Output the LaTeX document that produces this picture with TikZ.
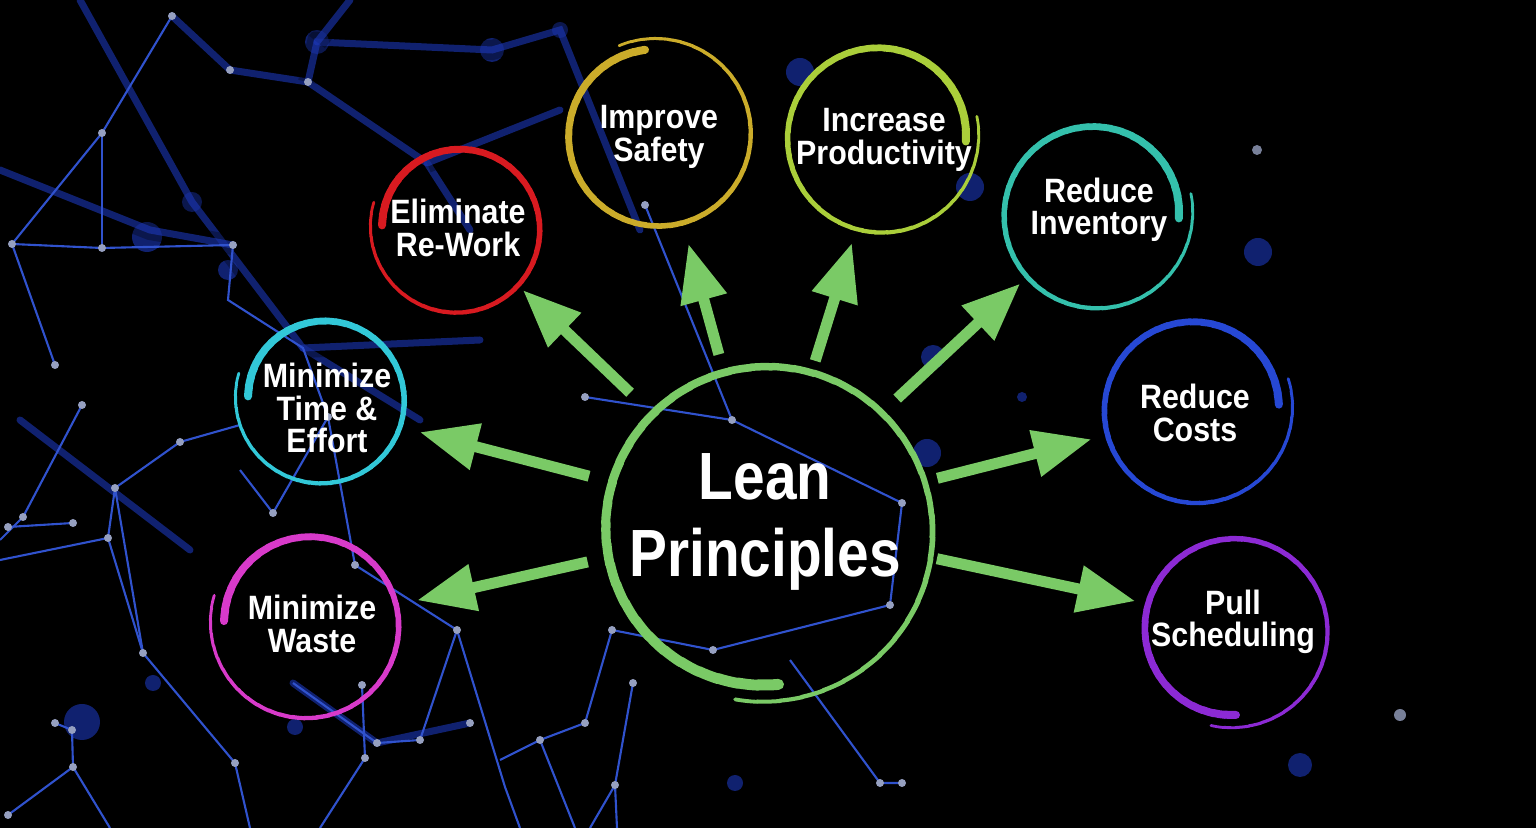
\documentclass[tikz,border=0pt]{standalone}
\usepackage{fontspec}
\setmainfont{Liberation Sans}
\newfontfamily\tagfont[FakeStretch=0.9]{Liberation Sans}
\newfontfamily\hubfont[FakeStretch=0.85]{Liberation Sans}
\usetikzlibrary{arrows.meta}

\definecolor{leangreen}{RGB}{122,202,102}
\definecolor{ringgold}{RGB}{203,172,42}
\definecolor{ringlime}{RGB}{170,206,58}
\definecolor{ringred}{RGB}{216,26,32}
\definecolor{ringteal}{RGB}{52,192,172}
\definecolor{ringblue}{RGB}{38,72,212}
\definecolor{ringpurple}{RGB}{140,42,212}
\definecolor{ringcyan}{RGB}{50,200,216}
\definecolor{ringmagenta}{RGB}{216,58,202}
\definecolor{netblue}{RGB}{48,82,205}
\definecolor{netglow}{RGB}{28,56,185}
\definecolor{netdot}{RGB}{150,160,192}

% #1 centre, #2 start radius, #3 end radius, #4 start angle, #5 turn (1 or -1), #6 colour, #7 width in px
\newcommand{\brushring}[7]{%
	\foreach \k in {0,...,49}{%
		\pgfmathsetmacro\ringA{#4+(#5)*7.5*\k}%
		\pgfmathsetmacro\ringB{\ringA+(#5)*7.5}%
		\pgfmathsetmacro\ringR{#2+(#3-#2)*\k/49}%
		\pgfmathsetmacro\ringW{#7*0.2845*(1-0.65*\k/49)}%
		\draw[#6,line width=\ringW pt,line cap=round] (#1) ++(\ringA:\ringR) arc[start angle=\ringA,end angle=\ringB,radius=\ringR];
	}%
}

\begin{document}
\begin{tikzpicture}[x=0.01cm,y=0.01cm,
	hub/.style={circle,minimum size=3.3cm,inner sep=0pt,text=white,align=center,
		font={\hubfont\bfseries\fontsize{19}{22}\selectfont\lineskiplimit=-10pt}},
	tag/.style={circle,minimum size=#1,inner sep=0pt,text=white,align=center,
		font={\tagfont\bfseries\fontsize{9.6}{9.2}\selectfont\lineskiplimit=-10pt}},
	spoke/.style={draw=leangreen,line width=0.11cm,-{Triangle[width=0.45cm,length=0.58cm]}},
	glow/.style={netglow,line width=0.07cm,line cap=round,opacity=0.6,
		preaction={draw,line width=0.2cm,opacity=0.3}},
	wire/.style={netblue,line width=0.6pt},
	bokeh/.style={fill=netglow,opacity=0.6}]
	\useasboundingbox (0,0) rectangle (1536,-828);
	\fill[black] (0,0) rectangle (1536,-828);

	\foreach \x/\y/\r in {317/42/12,492/50/12,147/237/15,228/270/10,192/202/10,800/72/14,
		970/187/14,927/453/14,933/357/12,1258/252/14,1022/397/5,735/783/8,1300/765/12,
		82/722/18,153/683/8,295/727/8,560/30/8}
		\fill[bokeh] (\x,-\y) circle (\r);
	\fill[netdot,opacity=0.8] (1257,-150) circle (5);
	\fill[netdot,opacity=0.8] (1400,-715) circle (6);

	\draw[glow] (80,0) -- (192,-202) -- (303,-348) -- (420,-420);
	\draw[glow] (172,-16) -- (230,-70) -- (308,-82) -- (427,-163) -- (470,-230);
	\draw[glow] (308,-82) -- (317,-42) -- (492,-50) -- (560,-30) -- (640,-230);
	\draw[glow] (317,-42) -- (350,0);
	\draw[glow] (0,-170) -- (150,-230) -- (233,-245);
	\draw[glow] (303,-348) -- (480,-340);
	\draw[glow] (427,-163) -- (560,-110);
	\draw[glow] (20,-420) -- (190,-550);
	\draw[glow] (293,-683) -- (377,-743) -- (470,-723);

	\draw[wire] (172,-16) -- (102,-133) -- (12,-244) -- (55,-365);
	\draw[wire] (102,-133) -- (102,-248);
	\draw[wire] (12,-244) -- (102,-248) -- (233,-245) -- (228,-300) -- (303,-348) -- (328,-417);
	\draw[wire] (82,-405) -- (23,-517) -- (0,-540);
	\draw[wire] (8,-527) -- (73,-523);
	\draw[wire] (240,-425) -- (180,-442) -- (115,-488) -- (108,-538) -- (0,-560);
	\draw[wire] (115,-488) -- (143,-653) -- (235,-763) -- (250,-828);
	\draw[wire] (108,-538) -- (143,-653);
	\draw[wire] (328,-417) -- (355,-565) -- (457,-630) -- (505,-787) -- (520,-828);
	\draw[wire] (328,-417) -- (273,-513) -- (240,-470);
	\draw[wire] (457,-630) -- (420,-740) -- (377,-743) -- (293,-683);
	\draw[wire] (362,-685) -- (365,-758) -- (320,-828);
	\draw[wire] (55,-723) -- (72,-730) -- (73,-767) -- (8,-815);
	\draw[wire] (73,-767) -- (110,-828);
	\draw[wire] (500,-760) -- (540,-740) -- (585,-723) -- (612,-630);
	\draw[wire] (540,-740) -- (575,-828);
	\draw[wire] (633,-683) -- (615,-785) -- (617,-828);
	\draw[wire] (615,-785) -- (590,-828);
	\draw[wire] (790,-660) -- (880,-783) -- (902,-783);
	\draw[wire] (585,-397) -- (732,-420) -- (902,-503) -- (890,-605) -- (713,-650) -- (612,-630);
	\draw[wire] (645,-205) -- (732,-420);

	\foreach \x/\y in {172/16,230/70,308/82,102/133,12/244,102/248,233/245,55/365,82/405,23/517,
		8/527,73/523,180/442,115/488,108/538,143/653,235/763,273/513,328/417,355/565,457/630,
		420/740,377/743,470/723,362/685,365/758,55/723,72/730,73/767,8/815,540/740,585/723,
		615/785,633/683,880/783,902/783,585/397,732/420,902/503,890/605,713/650,612/630,645/205}
		\fill[netdot] (\x,-\y) circle (4);

	\node[hub] (lean) at (765,-522) {Lean\\Principles};
	\node[tag=1.68cm] (rework) at (458,-228) {Eliminate\\Re-Work};
	\node[tag=1.90cm] (safety) at (659,-137) {Improve\\Safety};
	\node[tag=1.90cm] (productivity) at (884,-140) {Increase\\Productivity};
	\node[tag=1.92cm] (inventory) at (1099,-210) {Reduce\\Inventory};
	\node[tag=1.92cm] (costs) at (1195,-413) {Reduce\\Costs};
	\node[tag=1.90cm] (scheduling) at (1233,-622) {Pull\\Scheduling};
	\node[tag=1.72cm] (timeeffort) at (327,-408) {Minimize\\Time \&\\Effort};
	\node[tag=1.92cm] (waste) at (312,-624) {Minimize\\Waste};

	\brushring{[yshift=-0.08cm]lean.center}{155}{172}{-85}{-1}{leangreen}{11}
	\brushring{rework.center}{76}{88}{178}{-1}{ringred}{8}
	\brushring{[shift={(-0.02cm,0.02cm)}]safety.center}{86}{97}{98}{1}{ringgold}{8}
	\brushring{[shift={(-0.04cm,0.03cm)}]productivity.center}{86}{99}{-3}{1}{ringlime}{8}
	\brushring{[shift={(-0.04cm,-0.04cm)}]inventory.center}{84}{98}{-3}{1}{ringteal}{8}
	\brushring{[yshift=0.04cm]costs.center}{84}{98}{3}{1}{ringblue}{8}
	\brushring{[yshift=-0.08cm]scheduling.center}{85}{98}{-88}{-1}{ringpurple}{8}
	\brushring{[shift={(-0.04cm,0.09cm)}]timeeffort.center}{75}{88}{178}{-1}{ringcyan}{8}
	\brushring{[xshift=-0.04cm]waste.center}{84}{98}{178}{-1}{ringmagenta}{8}

	\draw[spoke,shorten <=0.21cm,shorten >=0.05cm] (lean) -- (rework);
	\draw[spoke,shorten <=0.08cm,shorten >=0.15cm] (lean) -- (safety);
	\draw[spoke,shorten <=0.03cm,shorten >=0.12cm] (lean) -- (productivity);
	\draw[spoke,shorten <=0.15cm,shorten >=0.11cm] (lean) -- (inventory);
	\draw[spoke,shorten <=0.12cm,shorten >=0.10cm] (lean) -- (costs);
	\draw[spoke,shorten <=0.10cm,shorten >=0.04cm] (lean) -- (scheduling);
	\draw[spoke,shorten <=0.16cm,shorten >=0.11cm] (lean) -- (waste);
	\draw[spoke,shorten <=0.16cm,shorten >=0.09cm] (lean) -- (timeeffort);
\end{tikzpicture}
\end{document}
